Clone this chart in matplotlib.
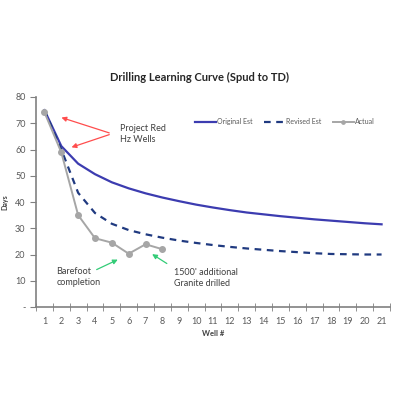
import numpy as np
import matplotlib.pyplot as plt
from matplotlib.ticker import FixedLocator, FuncFormatter

wells = list(range(1, 22))
original_est = [75.0, 61.3, 54.6, 50.6, 47.5, 45.2, 43.3, 41.7, 40.3, 39.0, 37.9,
                36.9, 36.0, 35.3, 34.6, 34.0, 33.4, 32.9, 32.4, 31.9, 31.5]
revised_est = [75.0, 60.0, 43.5, 35.8, 31.7, 29.3, 27.7, 26.4, 25.3, 24.4, 23.6,
               22.9, 22.3, 21.8, 21.3, 20.9, 20.5, 20.2, 20.1, 20.0, 20.0]
actual_wells = [1, 2, 3, 4, 5, 6, 7, 8]
actual = [74.2, 58.9, 35.0, 26.2, 24.5, 20.3, 23.9, 22.0]

plt.rcParams['font.family'] = ['Lato', 'DejaVu Sans']

fig = plt.figure(figsize=(4, 4), dpi=100)
ax = fig.add_axes([0.09, 0.2325, 0.885, 0.525])

ax.plot(wells, original_est, color='#3c3cb0', lw=1.6, label='Original Est')
ax.plot(wells, revised_est, color='#203a80', lw=1.6, ls=(0, (3, 2.5)), label='Revised Est')
ax.plot(actual_wells, actual, color='#a6a6a6', lw=1.4, marker='o', ms=4,
        label='Actual')

ax.set_xlim(0.5, 21.5)
ax.set_ylim(0, 80)
ax.set_xticks(wells)
ax.xaxis.set_minor_locator(FixedLocator(np.arange(0.5, 22, 1)))
ax.tick_params(axis='x', which='major', length=0, labelsize=6.5, colors='#595959', pad=7)
ax.tick_params(axis='x', which='minor', length=6, direction='inout', color='#808080')
ax.set_yticks(range(0, 81, 10))
ax.yaxis.set_major_formatter(FuncFormatter(lambda v, p: '-' if v == 0 else f'{int(v)}'))
ax.tick_params(axis='y', length=4, direction='out', labelsize=6.5, colors='#595959',
               color='#808080')
for s in ['top', 'right']:
    ax.spines[s].set_visible(False)
for s in ['left', 'bottom']:
    ax.spines[s].set_color('#808080')
    ax.spines[s].set_linewidth(1.2)

ax.set_xlabel('Well #', fontsize=5.5, fontweight='bold', color='#404040', labelpad=3)
ax.set_ylabel('Days', fontsize=5, fontweight='bold', color='#404040', labelpad=5)
fig.text(0.5, 0.807, 'Drilling Learning Curve (Spud to TD)', ha='center', va='center',
         fontsize=8, fontweight='bold', color='#262626')

leg = ax.legend(loc='upper right', bbox_to_anchor=(0.975, 0.93), ncol=3, frameon=False,
                fontsize=5, handlelength=3.0, columnspacing=1.6, handletextpad=0.2,
                labelcolor='#595959', markerscale=0.6)

red = dict(arrowstyle='-|>', color='#ff4d4d', lw=0.9, mutation_scale=7)
ax.annotate('', xy=(1.85, 72.5), xytext=(5.0, 66.0), arrowprops=red)
ax.annotate('', xy=(2.45, 60.5), xytext=(5.0, 66.0), arrowprops=red)
ax.text(5.5, 66.0, 'Project Red\nHz Wells', fontsize=6.5, color='#404040', va='center',
        linespacing=1.3)

green = dict(arrowstyle='-|>', color='#33cc77', lw=0.9, mutation_scale=7)
ax.annotate('', xy=(5.5, 18.5), xytext=(3.95, 13.8), arrowprops=green)
ax.text(1.7, 11.5, 'Barefoot\ncompletion', fontsize=6.5, color='#404040', va='center',
        linespacing=1.3)
ax.annotate('', xy=(7.25, 20.7), xytext=(8.4, 16.0), arrowprops=green)
ax.text(8.7, 11.2, "1500' additional\nGranite drilled", fontsize=6.5, color='#404040',
        va='center', linespacing=1.3)

fig.savefig('out.png', dpi=100)
